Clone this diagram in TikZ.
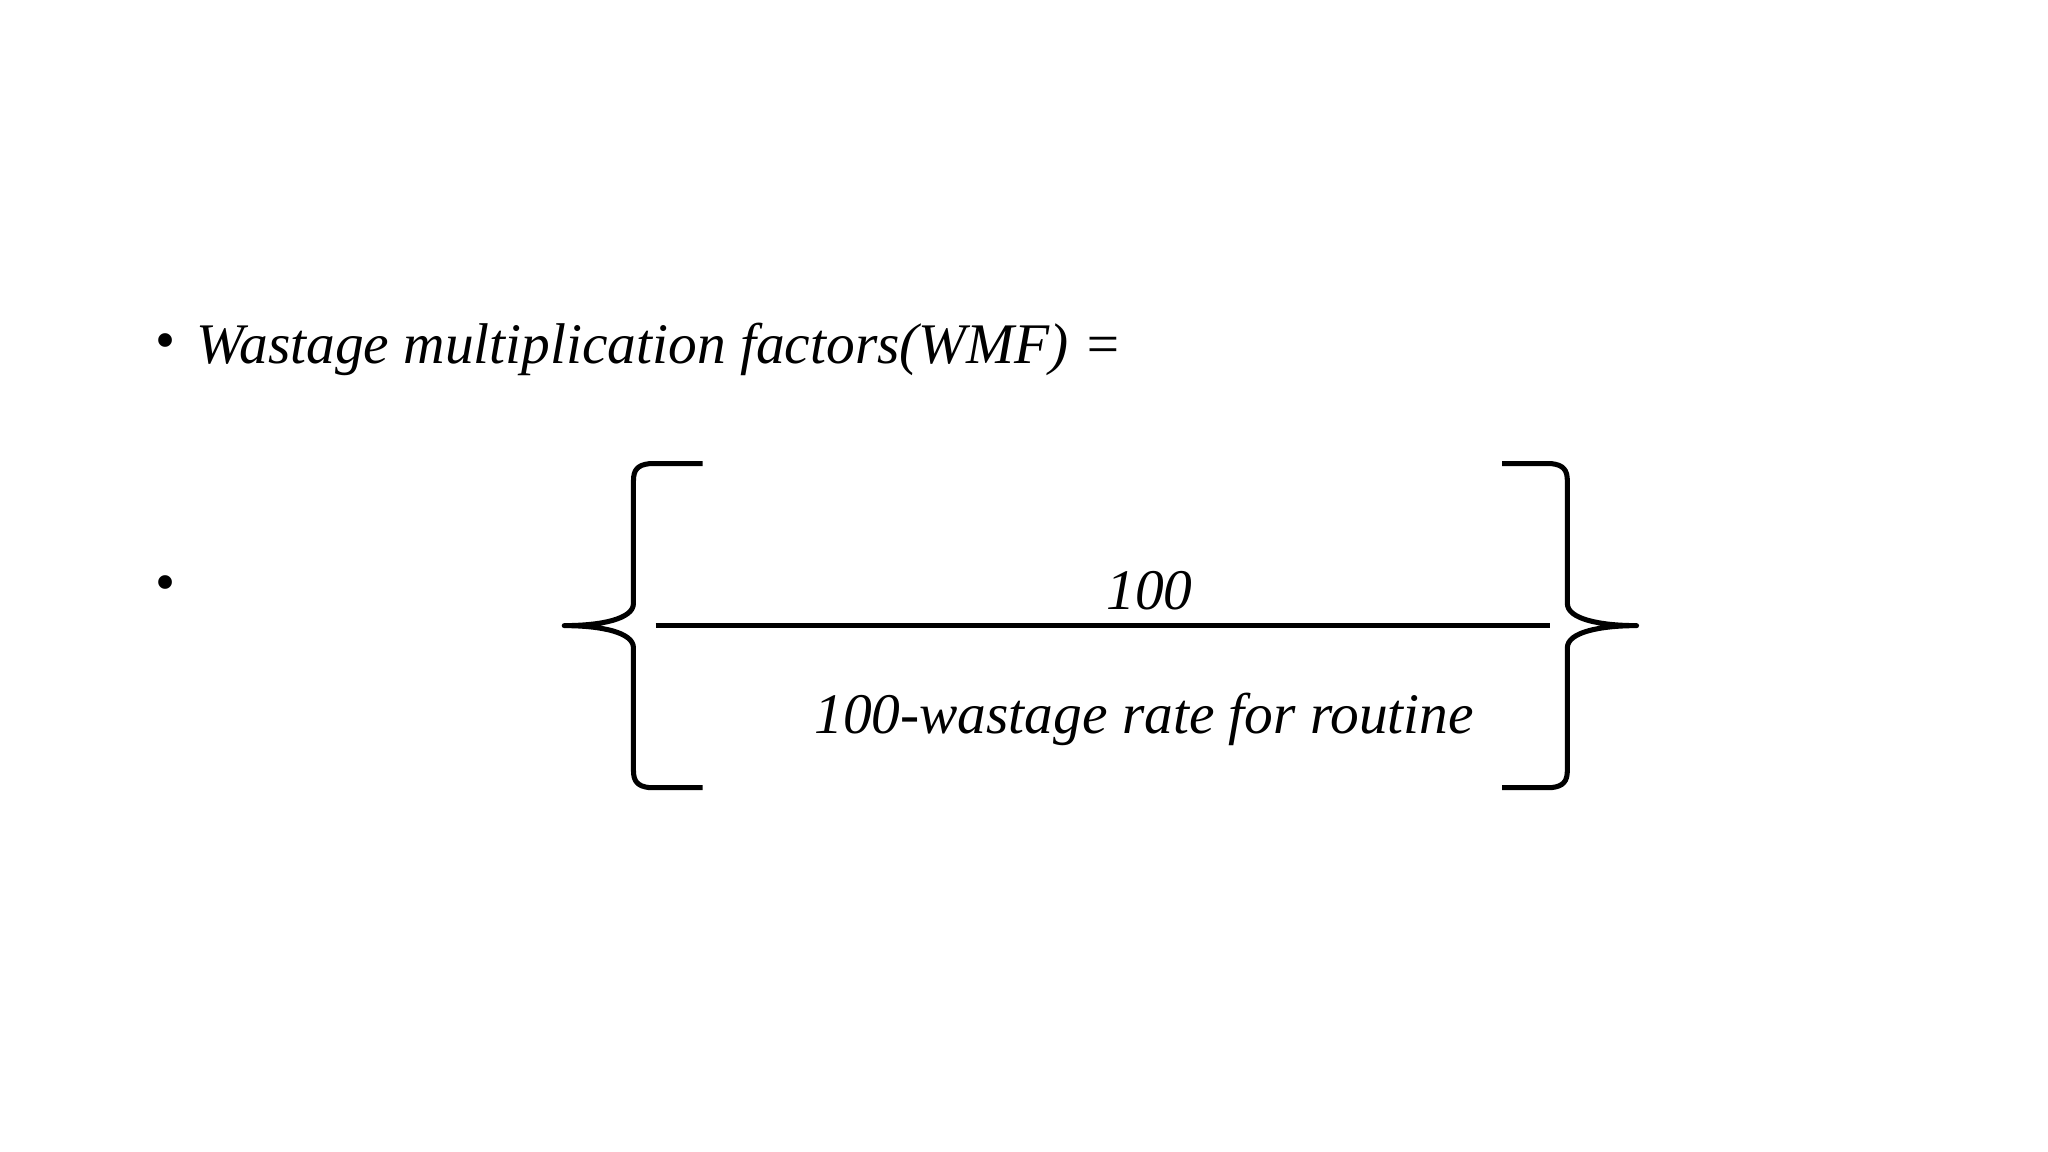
\documentclass[tikz,border=0pt]{standalone}
\usepackage{fontspec}
\setmainfont{Liberation Serif}
\begin{document}
\begin{tikzpicture}[x=0.01cm,y=-0.01cm,
  txt/.style={font=\fontsize{12.5pt}{15pt}\selectfont\itshape, inner sep=0pt},
  brk/.style={line width=1.1pt, line join=round}]
\useasboundingbox (0,0) rectangle (1568,882);
\node[txt, anchor=base west] (t1) at (150,278) {Wastage multiplication factors(WMF) =};
\node[inner sep=0pt, font=\fontsize{12.5pt}{15pt}\selectfont] (b1) at (127,265) {•};
\node[inner sep=0pt, font=\fontsize{12.5pt}{15pt}\selectfont] (b2) at (127,451) {•};
\node[txt] (num) at (880,452) {100};
\node[txt] (den) at (876,551) {100-wastage rate for routine};
\coordinate (fl) at (502,479);
\coordinate (fr) at (1187,479);
\draw[line width=1.2pt] (fl) -- (fr);
\draw[brk] (538,355) -- (497,355) .. controls (488,356) and (485,360) .. (485,368)
  -- (485,462) .. controls (485,474) and (460,479) .. (432,479)
  .. controls (460,479) and (485,484) .. (485,496)
  -- (485,590) .. controls (485,598) and (488,602) .. (497,603) -- (538,603);
\draw[brk] (1150,355) -- (1188,355) .. controls (1197,356) and (1200,360) .. (1200,368)
  -- (1200,462) .. controls (1200,474) and (1225,479) .. (1253,479)
  .. controls (1225,479) and (1200,484) .. (1200,496)
  -- (1200,590) .. controls (1200,598) and (1197,602) .. (1188,603) -- (1150,603);
\end{tikzpicture}
\end{document}
